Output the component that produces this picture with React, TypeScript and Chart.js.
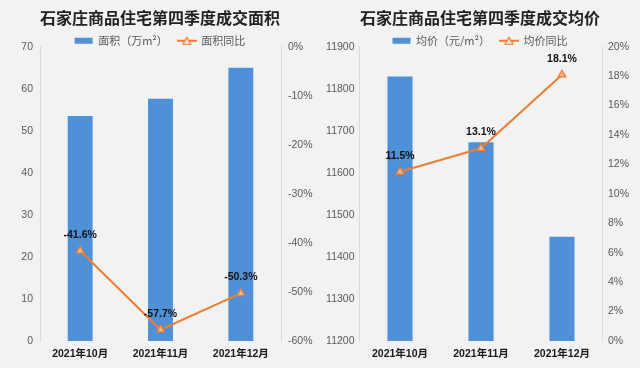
import React, { useEffect, useRef } from 'react';
import { Chart, registerables } from 'chart.js';

Chart.register(...registerables);

// ---- data ----
const months = ['2021年10月', '2021年11月', '2021年12月'];

const areaTitle = '石家庄商品住宅第四季度成交面积';
const areaBarLabel = '面积（万m²）';
const areaLineLabel = '面积同比';
const areaValues = [53.5, 57.6, 65.0];
const areaYoY = [-41.6, -57.7, -50.3];

const priceTitle = '石家庄商品住宅第四季度成交均价';
const priceBarLabel = '均价（元/m²）';
const priceLineLabel = '均价同比';
const priceValues = [11829, 11673, 11448];
const priceYoY = [11.5, 13.1, 18.1];

// ---- style ----
const BLUE = '#4f91d8';
const ORANGE = '#ed7d31';
const FONT = "'Liberation Sans', 'Noto Sans CJK SC', sans-serif";
const CJK = "'Noto Sans CJK SC', 'Liberation Sans', sans-serif";

function makeLineIcon(): HTMLCanvasElement {
  const c = document.createElement('canvas');
  c.width = 20;
  c.height = 10;
  const ctx = c.getContext('2d')!;
  ctx.strokeStyle = ORANGE;
  ctx.lineWidth = 2;
  ctx.beginPath();
  ctx.moveTo(0, 5);
  ctx.lineTo(20, 5);
  ctx.stroke();
  ctx.beginPath();
  ctx.moveTo(10, 1.5);
  ctx.lineTo(14, 8.5);
  ctx.lineTo(6, 8.5);
  ctx.closePath();
  ctx.fillStyle = '#fbe3d3';
  ctx.fill();
  ctx.lineWidth = 1.2;
  ctx.stroke();
  return c;
}

const dataLabelPlugin = {
  id: 'pctLabels',
  afterDatasetsDraw(chart: any) {
    const ctx = chart.ctx;
    chart.data.datasets.forEach((ds: any, i: number) => {
      if (ds.type !== 'line') return;
      const meta = chart.getDatasetMeta(i);
      ctx.save();
      ctx.font = `bold 10.5px ${FONT}`;
      ctx.fillStyle = '#111111';
      ctx.textAlign = 'center';
      ctx.textBaseline = 'middle';
      meta.data.forEach((el: any, j: number) => {
        ctx.fillText(Number(ds.data[j]).toFixed(1) + '%', el.x, el.y - 16);
      });
      ctx.restore();
    });
  },
};

interface Cfg {
  title: string;
  barLabel: string;
  lineLabel: string;
  bars: number[];
  line: number[];
  yMin: number;
  yMax: number;
  yStep: number;
  y1Min: number;
  y1Max: number;
  y1Step: number;
  leftW: number;
  rightW: number;
  leftPad: number;
  rightPad: number;
}

function buildConfig(c: Cfg): any {
  const icon = makeLineIcon();
  return {
    type: 'bar',
    data: {
      labels: months,
      datasets: [
        {
          type: 'bar',
          label: c.barLabel,
          data: c.bars,
          backgroundColor: BLUE,
          borderWidth: 0,
          yAxisID: 'y',
          categoryPercentage: 1,
          barPercentage: 0.31,
          order: 1,
        },
        {
          type: 'line',
          label: c.lineLabel,
          data: c.line,
          borderColor: ORANGE,
          borderWidth: 2,
          pointStyle: 'triangle',
          pointRadius: 4.5,
          pointBackgroundColor: '#f6b48a',
          pointBorderColor: ORANGE,
          pointBorderWidth: 1.2,
          tension: 0,
          yAxisID: 'y1',
          order: 0,
        },
      ],
    },
    options: {
      responsive: false,
      animation: false,
      devicePixelRatio: 1,
      layout: { padding: 0 },
      plugins: {
        tooltip: { enabled: false },
        title: {
          display: true,
          text: c.title,
          color: '#222222',
          font: { family: CJK, size: 16, weight: 'bold' },
          padding: { top: 8, bottom: -2 },
        },
        legend: {
          display: true,
          position: 'top',
          maxHeight: 21.5,
          labels: {
            usePointStyle: true,
            pointStyleWidth: 18,
            boxHeight: 6,
            padding: 10,
            color: '#595959',
            font: { family: CJK, size: 11 },
            generateLabels: (chart: any) => {
              const items = Chart.defaults.plugins.legend.labels.generateLabels(chart);
              return items
                .map((it: any) => {
                  if (it.datasetIndex === 1) {
                    it.pointStyle = icon;
                  } else {
                    it.pointStyle = 'rect';
                    it.lineWidth = 0;
                    it.fillStyle = BLUE;
                    it.strokeStyle = BLUE;
                  }
                  return it;
                })
                .sort((a: any, b: any) => a.datasetIndex - b.datasetIndex);
            },
          },
        },
      },
      scales: {
        x: {
          grid: { display: false, drawTicks: false },
          border: { display: false },
          ticks: {
            color: '#1a1a1a',
            font: { family: FONT, size: 10.5, weight: 'bold' },
            padding: 7,
            maxRotation: 0,
          },
          afterFit: (s: any) => {
            s.height = 27;
          },
        },
        y: {
          position: 'left',
          min: c.yMin,
          max: c.yMax,
          grid: { display: false, drawTicks: false },
          border: { display: true, color: '#dcdcdc', width: 1 },
          ticks: {
            stepSize: c.yStep,
            color: '#595959',
            font: { family: FONT, size: 10.5 },
            padding: c.leftPad,
            callback: (v: any) => String(v),
          },
          afterFit: (s: any) => {
            s.width = c.leftW;
          },
        },
        y1: {
          position: 'right',
          min: c.y1Min,
          max: c.y1Max,
          grid: { display: false, drawTicks: false },
          border: { display: true, color: '#dcdcdc', width: 1 },
          ticks: {
            stepSize: c.y1Step,
            color: '#595959',
            font: { family: FONT, size: 10.5 },
            padding: c.rightPad,
            callback: (v: any) => `${v}%`,
          },
          afterFit: (s: any) => {
            s.width = c.rightW;
          },
        },
      },
    },
    plugins: [dataLabelPlugin],
  };
}

function ComboChart({ cfg }: { cfg: Cfg }) {
  const ref = useRef<HTMLCanvasElement | null>(null);
  useEffect(() => {
    if (!ref.current) return;
    const chart = new Chart(ref.current, buildConfig(cfg));
    return () => chart.destroy();
  }, [cfg]);
  return <canvas ref={ref} width={320} height={368} style={{ display: 'block', width: 320, height: 368 }} />;
}

const areaCfg: Cfg = {
  title: areaTitle,
  barLabel: areaBarLabel,
  lineLabel: areaLineLabel,
  bars: areaValues,
  line: areaYoY,
  yMin: 0,
  yMax: 70,
  yStep: 10,
  y1Min: -60,
  y1Max: 0,
  y1Step: 10,
  leftW: 40,
  rightW: 39,
  leftPad: 7,
  rightPad: 7,
};

const priceCfg: Cfg = {
  title: priceTitle,
  barLabel: priceBarLabel,
  lineLabel: priceLineLabel,
  bars: priceValues,
  line: priceYoY,
  yMin: 11200,
  yMax: 11900,
  yStep: 100,
  y1Min: 0,
  y1Max: 20,
  y1Step: 2,
  leftW: 39.5,
  rightW: 37.5,
  leftPad: 5,
  rightPad: 5.5,
};

export default function App() {
  return (
    <div
      style={{
        position: 'fixed',
        left: 0,
        top: 0,
        width: 640,
        height: 368,
        display: 'flex',
        background: '#f2f2f2',
        overflow: 'hidden',
      }}
    >
      <ComboChart cfg={areaCfg} />
      <ComboChart cfg={priceCfg} />
    </div>
  );
}
